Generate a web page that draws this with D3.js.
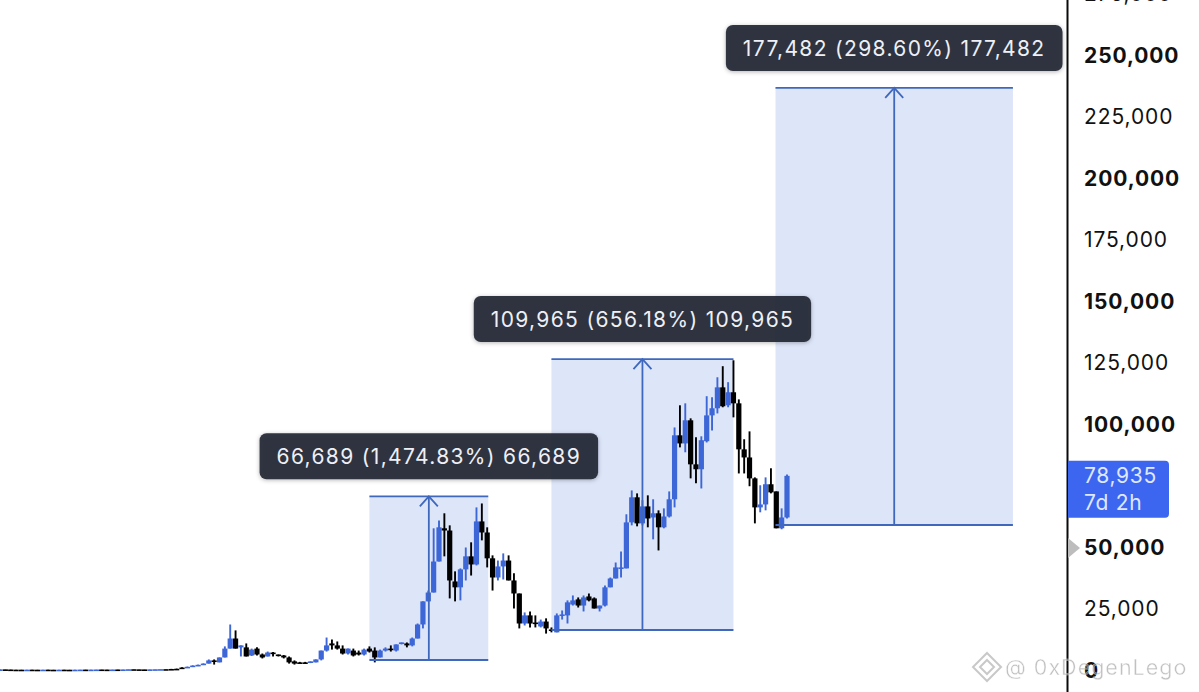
<!DOCTYPE html>
<html><head><meta charset="utf-8">
<script src="https://cdn.jsdelivr.net/npm/d3@7/dist/d3.min.js"></script>
<style>html,body{margin:0;padding:0;background:#fff;overflow:hidden}svg{display:block}text{font-family:Inter,"Noto Sans",sans-serif}</style>
</head><body><svg id="c" width="1199" height="692"></svg>
<script>
const opens=[180,260,200,140,130,90,150,120,100,150,110,80,140,110,90,130,170,130,170,210,180,140,210,170,240,310,270,240,200,260,300,340,420,500,
1000,1000,1400,1800,2100,2600,3900,3100,5100,8700,12800,9200,9200,5900,8700,6300,5500,7100,6300,5900,5100,3500,3100,3100,3100,3100,4300,7900,10800,10000,8700,6700,7900,7100,6300,8700,7900,5100,7900,8700,7900,10800,10800,10000,12800,18500,27900,31500,44100,57600,56700,36000,33600,40900,46200,42900,60400,55900,45400,37600,42100,44500,36400,31100,18900,22200,19300,17700,19700,16500,15300,22200,22200,26600,28700,26200,29900,29100,25000,26200,33600,37200,41300,41300,60000,70200,59600,66500,62000,63700,58000,62400,69400,95400,92100,101500,83600,81600,93000,103500,106400,114900,107600,112900,108400,89700,86400,77900,66100,67300,75500,72600,57600,62000];
const highs=[300,280,220,160,150,170,170,140,160,170,130,150,160,130,160,190,190,200,230,240,200,230,240,260,330,340,290,270,290,330,370,380,460,560,
1100,1400,1900,2200,2700,4300,4300,5100,9600,18500,16100,10000,10800,8700,9200,6700,7500,7300,6300,6100,5500,3900,3300,3300,3500,4300,7900,13200,12400,11600,10000,8700,8700,7900,8700,9600,9200,8300,9200,10000,10400,11200,11200,13200,18900,27900,32300,57600,60800,63700,58800,40100,41300,49800,51900,66100,67700,58000,46600,44500,47400,46600,39300,31100,23400,23800,22200,20500,21000,17300,23000,24200,28300,30300,29500,30300,31100,29500,26200,34400,37600,43700,48200,63300,73000,71800,69000,71000,69400,64900,65700,72600,98600,107600,108400,102300,94600,95000,111300,110900,119000,123500,117000,125900,110000,93800,97000,78300,75100,78300,82000,72600,65700,79500];
const lows=[150,180,100,90,70,70,90,70,80,80,60,60,80,70,70,110,110,110,150,150,120,120,150,150,220,240,210,180,180,240,280,280,320,400,
700,900,1200,1600,2000,2600,2200,3100,5100,8700,8700,5500,5500,5700,5900,4700,5500,5500,5500,4700,2600,2200,2800,2800,2800,3100,3900,7500,8300,8300,6300,6300,5500,5900,5900,7100,3100,5100,7500,7500,7500,10400,9200,9600,12800,16900,27900,31500,44100,46200,29100,27900,28300,36400,38400,42500,52700,41700,32300,36400,36800,36400,25000,16900,18100,17300,17300,17300,14800,15300,15300,20500,18900,26200,25400,23800,27900,25000,23800,25800,33600,37200,37600,41300,58800,58400,58800,58000,53100,48600,57600,62000,66100,90500,88500,77900,75900,73800,92500,97400,104300,106800,106800,102700,79900,79900,74700,59600,64100,64900,71800,57600,57200,61600];
const closes=[260,200,120,110,90,140,110,90,140,100,80,130,100,90,130,160,130,170,200,170,140,200,170,230,300,260,230,200,260,300,340,300,350,430,
800,1300,1800,2100,2600,3900,3500,5100,8700,12800,8700,10000,5500,8300,6300,5100,7100,6700,5900,5100,3100,2600,2900,2800,3500,4300,7900,10000,10000,8700,6700,8700,5900,6300,8300,7500,5100,7900,8700,8300,10400,11200,10000,12800,18500,27900,31500,44100,58000,56700,36400,33600,40900,46200,42900,60400,55900,45400,37600,42100,44500,36400,31100,18900,22200,18900,18900,19700,16900,16100,22200,22600,27500,28300,26200,29500,28300,25000,26200,33600,37200,41700,41700,60000,70200,59600,66500,61600,63700,58000,62400,69400,95400,92100,101500,83600,81600,93400,103500,106400,114900,107200,112900,108400,89700,86400,77900,66100,67300,75500,72200,57600,62000,78935];

const measureLabels=["66,689 (1,474.83%) 66,689","109,965 (656.18%) 109,965","177,482 (298.60%) 177,482"];
const measureBase=[4065,16260,58940];
const measureTop=[70600,126400,236600];
const measureStart=[69,103,144.85];
const measureEnd=[91.2,137,189.2];
const tickValues=[0,25000,50000,100000,125000,150000,175000,200000,225000,250000,275000];
const boldTicks=[0,50000,100000,150000,200000,250000];
const lastPrice=78935;
const countdown="7d 2h";
const watermark="@ 0xDegenLego";

const BLUE="#3d66d6",BLACK="#060606",LINE="#3f68bd",FILL="#dde5f9";
const svg=d3.select("#c");
const x=d3.scaleLinear().domain([0,147]).range([0,787]);
const y=d3.scaleLinear().domain([0,250000]).range([670,55]);

const defs=svg.append("defs");
const f=defs.append("filter").attr("id","sh").attr("x","-5%").attr("y","-20%").attr("width","110%").attr("height","150%");
f.append("feDropShadow").attr("dx",0).attr("dy",1).attr("stdDeviation",2).attr("flood-color","#000").attr("flood-opacity",.3);
const soft=defs.append("filter").attr("id","soft");
soft.append("feGaussianBlur").attr("stdDeviation",.35);

const ms=d3.range(3);
const boxes=svg.append("g").attr("filter","url(#soft)");
boxes.selectAll("rect").data(ms).join("rect")
 .attr("x",i=>x(measureStart[i])).attr("width",i=>x(measureEnd[i])-x(measureStart[i]))
 .attr("y",i=>y(measureTop[i])).attr("height",i=>y(measureBase[i])-y(measureTop[i])).attr("fill",FILL);

const cg=svg.append("g").attr("filter","url(#soft)");
const idx=d3.range(opens.length);
cg.selectAll("line").data(idx).join("line")
 .attr("x1",i=>x(i)).attr("x2",i=>x(i)).attr("y1",i=>y(highs[i])).attr("y2",i=>y(lows[i]))
 .attr("stroke",i=>closes[i]>=opens[i]?BLUE:BLACK).attr("stroke-width",1.9);
cg.selectAll("rect").data(idx).join("rect")
 .attr("x",i=>x(i)-2.6).attr("width",5.2)
 .attr("y",i=>y(Math.max(opens[i],closes[i])))
 .attr("height",i=>Math.max(1.6,Math.abs(y(opens[i])-y(closes[i]))))
 .attr("fill",i=>closes[i]>=opens[i]?BLUE:BLACK);

const mg=svg.append("g").attr("stroke",LINE).attr("stroke-width",1.8).attr("fill","none");
ms.forEach(i=>{
 const a=x(measureStart[i]),b=x(measureEnd[i]),m=(a+b)/2,t=y(measureTop[i]),s=y(measureBase[i]);
 mg.append("line").attr("x1",a).attr("x2",b).attr("y1",t).attr("y2",t);
 mg.append("line").attr("x1",a).attr("x2",b).attr("y1",s).attr("y2",s);
 mg.append("line").attr("x1",m).attr("x2",m).attr("y1",t).attr("y2",s);
 mg.append("path").attr("d",d3.line()([[m-9,t+10],[m,t],[m+9,t+10]]));
});

ms.forEach(i=>{
 const m=(x(measureStart[i])+x(measureEnd[i]))/2,t=y(measureTop[i]);
 const g=svg.append("g");
 const r=g.append("rect").attr("y",t-63).attr("height",46).attr("rx",7).attr("fill","#282b38").attr("fill-opacity",.95).attr("filter","url(#sh)");
 const tx=g.append("text").attr("x",m).attr("y",t-40).attr("dy","0.36em").attr("text-anchor","middle")
   .attr("fill","#eef0f6").attr("font-size",21).attr("letter-spacing",1.35).text(measureLabels[i]);
 const w=tx.node().getComputedTextLength()+34;
 r.attr("x",m-w/2).attr("width",w);
});

const axis=d3.axisRight(y).tickValues(tickValues).tickSize(0).tickPadding(16).tickFormat(d3.format(","));
const ag=svg.append("g").attr("transform","translate(1068,0.5)").call(axis);
ag.select(".domain").remove();
ag.selectAll("text").attr("font-size",21).attr("letter-spacing",.9).attr("fill","#111")
  .attr("font-family","Inter,sans-serif")
  .attr("font-weight",d=>boldTicks.includes(d)?700:400);
svg.append("line").attr("x1",1067.5).attr("x2",1067.5).attr("y1",0).attr("y2",692).attr("stroke","#0a0a0a").attr("stroke-width",2);

const py=y(lastPrice);
svg.append("path").attr("d","M1068,"+(py-15)+"h97a4,4 0 0 1 4,4v49a4,4 0 0 1 -4,4h-97z").attr("fill","#3d66f0");
svg.append("text").attr("x",1084).attr("y",py).attr("dy","0.36em").attr("font-size",21).attr("letter-spacing",.7).attr("fill","#dfe8ff").text(d3.format(",")(lastPrice));
svg.append("text").attr("x",1084).attr("y",py+27).attr("dy","0.36em").attr("font-size",21).attr("letter-spacing",.7).attr("fill","#dfe8ff").text(countdown);
const ty=y(50000)+1;
svg.append("path").attr("d",d3.line()([[1068,ty-10],[1080,ty],[1068,ty+10]])+"Z").attr("fill","#bdbdbd");

const wg=svg.append("g").attr("opacity",.62);
wg.append("path").attr("d","M987,653l14,14l-14,14l-14,-14zM987,660l7,7l-7,7l-7,-7z").attr("fill","none").attr("stroke","#a8a8a8").attr("stroke-width",2);
wg.append("text").attr("x",1005).attr("y",667).attr("dy","0.36em").attr("font-size",21.5).attr("letter-spacing",1).attr("fill","#9c9c9c").attr("stroke","#fff").attr("stroke-width",.4).text(watermark);
</script></body></html>
